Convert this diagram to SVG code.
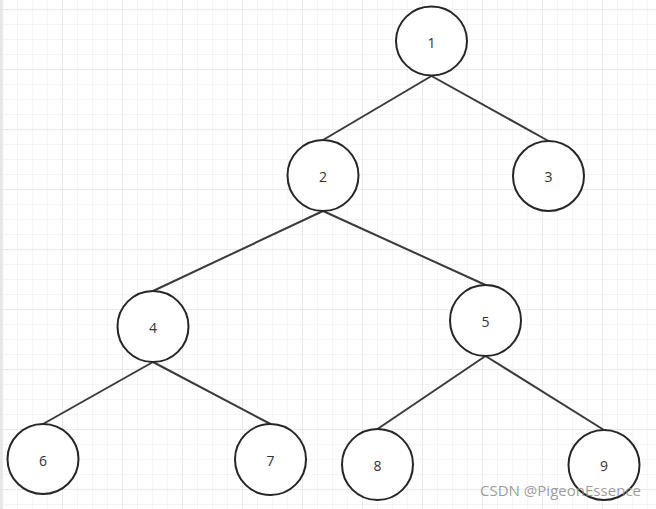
<svg xmlns="http://www.w3.org/2000/svg" width="656" height="509" viewBox="0 0 656 509">
<style>
.node ellipse{fill:#fff;stroke:#262626;stroke-width:2}
.node text{font-family:"Open Sans","Liberation Sans",sans-serif;font-size:14px;fill:#333;text-anchor:middle;dominant-baseline:central}
.edges line{stroke:#3a3a3a;stroke-width:2}
.wm{font-family:"Open Sans","Liberation Sans",sans-serif;font-size:14px;fill:#8a8a8a;fill-opacity:0.85}
</style>
<defs>
<pattern id="minor" x="2" y="9" width="15" height="15" patternUnits="userSpaceOnUse">
<path d="M0 0H15M0 0V15" stroke="#ececec" stroke-width="1" fill="none"/>
</pattern>
<pattern id="major" x="2" y="9" width="60" height="60" patternUnits="userSpaceOnUse">
<path d="M0 0H60M0 0V60" stroke="#e0e0e0" stroke-width="1" fill="none"/>
</pattern>
</defs>
<rect width="656" height="509" fill="#fff"/>
<rect width="656" height="509" fill="url(#minor)"/>
<rect width="656" height="509" fill="url(#major)"/>
<rect x="0" y="0" width="2" height="509" fill="#e6e6e6"/>
<g class="edges" id="edges">
<line x1="431.5" y1="76" x2="323" y2="140"/>
<line x1="431.5" y1="76" x2="548.5" y2="141"/>
<line x1="323" y1="211" x2="153" y2="291"/>
<line x1="323" y1="211" x2="485.5" y2="285"/>
<line x1="153" y1="362" x2="43" y2="424"/>
<line x1="153" y1="362" x2="270.5" y2="424"/>
<line x1="485.5" y1="356" x2="377.5" y2="429"/>
<line x1="485.5" y1="356" x2="604" y2="430"/>
</g>
<g class="node" id="n1"><ellipse cx="431.5" cy="41" rx="35.5" ry="34.5"/><text x="431.5" y="42">1</text></g>
<g class="node" id="n2"><ellipse cx="323" cy="175.5" rx="35.5" ry="35.5"/><text x="323" y="176">2</text></g>
<g class="node" id="n3"><ellipse cx="548.5" cy="176" rx="35.5" ry="35"/><text x="548.5" y="176">3</text></g>
<g class="node" id="n4"><ellipse cx="153" cy="326.5" rx="35.5" ry="35.5"/><text x="153" y="327">4</text></g>
<g class="node" id="n5"><ellipse cx="485.5" cy="320.5" rx="35.5" ry="35.5"/><text x="485.5" y="321">5</text></g>
<g class="node" id="n6"><ellipse cx="43" cy="459" rx="35.5" ry="35"/><text x="43" y="460">6</text></g>
<g class="node" id="n7"><ellipse cx="270.5" cy="459.5" rx="35.5" ry="35.5"/><text x="270.5" y="460">7</text></g>
<g class="node" id="n8"><ellipse cx="377.5" cy="464.5" rx="35.5" ry="35.5"/><text x="377.5" y="465">8</text></g>
<g class="node" id="n9"><ellipse cx="604" cy="465" rx="35.5" ry="35"/><text x="604" y="465">9</text></g>
<text class="wm" x="480" y="496" textLength="161" lengthAdjust="spacingAndGlyphs">CSDN @PigeonEssence</text>
</svg>
